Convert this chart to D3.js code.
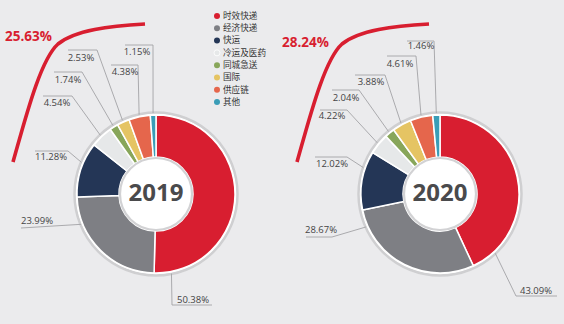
<!DOCTYPE html>
<html><head><meta charset="utf-8">
<script src="https://cdn.jsdelivr.net/npm/d3@7/dist/d3.min.js"></script>
<style>
html,body{margin:0;padding:0;background:#ebebed;}
svg{display:block;}
</style></head>
<body>
<svg id="chart" width="564" height="324"></svg>
<script>
const categories = ["时效快递","经济快递","快运","冷运及医药","同城急送","国际","供应链","其他"];
const values2019 = [50.38,23.99,11.28,4.54,1.74,2.53,4.38,1.15];
const values2020 = [43.09,28.67,12.02,4.22,2.04,3.88,4.61,1.46];
const years = ["2019","2020"];
const growthLabels = ["25.63%","28.24%"];
const colors = ["#d81e30","#7e7f84","#243656","#e6e8e9","#88a65a","#e5c463","#e5664c","#3a9db7"];

// layout (relative to each donut centre)
const layouts = [
  { cx:156, cy:194, growth:[-151,-157], labels:[
    {a:169, pts:[[16,111],[56,111]], t:[37,106]},
    {a:248, pts:[[-135,34]], t:[-119,27]},
    {a:293, pts:[[-88,-43],[-121,-43]], t:[-105,-37]},
    {pts:[[-84,-98],[-113,-98]], t:[-99,-91]},
    {pts:[[-74,-122],[-102,-122]], t:[-88,-114]},
    {pts:[[-59,-144],[-88,-144]], t:[-75,-136]},
    {pts:[[-18,-129],[-45,-129]], t:[-31,-122]},
    {pts:[[-3,-149],[-31,-149]], t:[-19,-142]}
  ]},
  { cx:440, cy:194, growth:[-158,-151], labels:[
    {a:137, pts:[[76,102],[117,102]], t:[96,97]},
    {a:246, pts:[[-108,43],[-134,43]], t:[-119,36]},
    {a:289, pts:[[-93,-37],[-125,-37]], t:[-108,-30]},
    {pts:[[-93,-84],[-120,-84]], t:[-108,-78]},
    {pts:[[-81,-104],[-108,-104]], t:[-94,-96]},
    {pts:[[-55,-119],[-85,-119]], t:[-69,-112]},
    {pts:[[-24,-138],[-53,-138]], t:[-40,-130]},
    {pts:[[-6,-153],[-33,-153]], t:[-19,-148]}
  ]}
];

const svg = d3.select("#chart");
const datasets = [values2019, values2020];
const rOuter = 79, rInner = 37, rHalo = 81.5;

const pie = d3.pie().sort(null).value(d => d);
const arc = d3.arc().innerRadius(rInner).outerRadius(rOuter);

datasets.forEach((vals, i) => {
  const L = layouts[i];
  const g = svg.append("g").attr("transform", `translate(${L.cx},${L.cy})`);

  // red growth curve
  const curve = d3.path();
  curve.moveTo(-143,-32);
  curve.bezierCurveTo(-131,-74,-116,-134,-98,-150);
  curve.bezierCurveTo(-81,-164,-46,-168,-11,-170);
  g.append("path").attr("d", curve.toString())
    .attr("fill","none").attr("stroke","#d81e30").attr("stroke-width",3.6).attr("stroke-linecap","butt");
  g.append("text").attr("x", L.growth[0]).attr("y", L.growth[1])
    .attr("dominant-baseline","middle")
    .attr("font-family","'Open Sans','Noto Sans',sans-serif").attr("font-weight","bold")
    .attr("font-size",13.5).attr("fill","#d81e30").text(growthLabels[i]);

  // halo
  g.append("circle").attr("r", rHalo).attr("fill","#ffffff")
    .attr("stroke","#cfcfd1").attr("stroke-width",2.5);

  const arcs = pie(vals);
  g.selectAll("path.slice").data(arcs).join("path").attr("class","slice")
    .attr("d", arc).attr("fill",(d,j)=>colors[j])
    .attr("stroke","#ffffff").attr("stroke-width",1.5).attr("stroke-linejoin","round");

  // inner circle
  g.append("circle").attr("r", rInner - 1).attr("fill","#ffffff")
    .attr("stroke","#d2d2d4").attr("stroke-width",2.2);
  g.append("text").attr("x",0).attr("y",1).attr("text-anchor","middle").attr("dominant-baseline","middle")
    .attr("font-family","'Open Sans','Noto Sans',sans-serif").attr("font-weight","bold")
    .attr("font-size",24).attr("fill","#4a4a4c").text(years[i]);

  // leader lines and labels
  arcs.forEach((d, j) => {
    const lab = L.labels[j];
    const ang = lab.a !== undefined ? lab.a * Math.PI/180 : (d.startAngle + d.endAngle)/2;
    const r0 = rOuter + 2;
    const start = [Math.sin(ang)*r0, -Math.cos(ang)*r0];
    const pts = [start, ...lab.pts];
    g.append("path").attr("d", d3.line()(pts))
      .attr("fill","none").attr("stroke","#a3a3a6").attr("stroke-width",0.9);
    g.append("text").attr("x", lab.t[0]).attr("y", lab.t[1])
      .attr("text-anchor","middle").attr("dominant-baseline","middle")
      .attr("font-family","'Open Sans','Noto Sans',sans-serif")
      .attr("font-size",9.5).attr("fill","#444").text(vals[j].toFixed(2) + "%");
  });
});

// legend
const legend = svg.append("g").attr("transform","translate(217,16)");
const ly = d3.scalePoint().domain(categories).range([0, 86]);
categories.forEach((c, j) => {
  const row = legend.append("g").attr("transform", `translate(0,${ly(c)})`);
  row.append("circle").attr("r",3).attr("fill",colors[j])
    .attr("stroke", j===3 ? "#ffffff" : "none").attr("stroke-width",0.8);
  row.append("text").attr("x",6).attr("y",0.5).attr("dominant-baseline","middle")
    .attr("font-family","'Noto Sans CJK SC',sans-serif").attr("font-size",8.6)
    .attr("fill","#333").text(c);
});
</script>
</body></html>
